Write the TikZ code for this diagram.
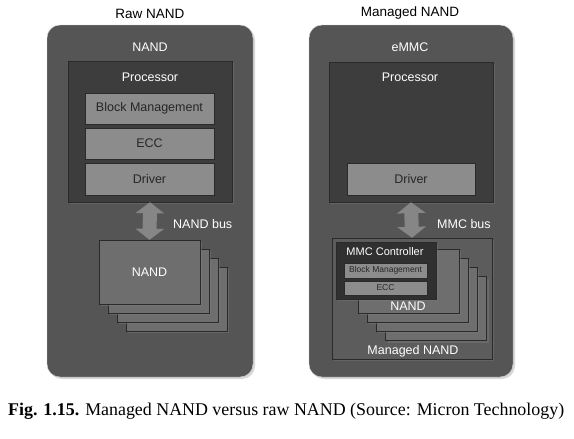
\documentclass[tikz,border=0pt]{standalone}
\usepackage{fontspec}
\setmainfont{Liberation Sans}
\newfontfamily\capfont{Liberation Serif}
\usetikzlibrary{arrows.meta}
\usetikzlibrary{shadows}
\definecolor{outergray}{HTML}{555555}
\definecolor{procgray}{HTML}{3D3D3D}
\definecolor{partgray}{HTML}{8C8C8C}
\definecolor{cardgray}{HTML}{6E6E6E}
\definecolor{edgegray}{HTML}{2A2A2A}
\definecolor{busgray}{HTML}{868686}
\definecolor{ctrlgray}{HTML}{303030}
\definecolor{mgdgray}{HTML}{5C5C5C}

\begin{document}
\begin{tikzpicture}[x=1pt, y=-1pt,
  lbl/.style={font=\fontsize{12.5}{14}\selectfont, inner sep=0pt},
  whitelbl/.style={lbl, text=white},
  titlelbl/.style={lbl, font=\fontsize{13.5}{16}\selectfont},
  outerbox/.style={draw=white!80!black, fill=outergray, rounded corners=13pt, inner sep=0pt,
    drop shadow={shadow xshift=2pt, shadow yshift=-2pt, opacity=0.3}},
  procbox/.style={draw=edgegray, fill=procgray, inner sep=0pt,
    drop shadow={shadow xshift=2pt, shadow yshift=-2pt, opacity=0.35}},
  partbox/.style={draw=edgegray, fill=partgray, text=black!85, inner sep=0pt,
    font=\fontsize{12.5}{14}\selectfont},
  card/.style={draw=edgegray, fill=cardgray, inner sep=0pt, minimum width=101pt, minimum height=64pt,
    drop shadow={shadow xshift=2pt, shadow yshift=-2pt, opacity=0.4}},
  busarrow/.style={draw=busgray, line width=14pt, {Triangle[width=28pt,length=11pt]}-{Triangle[width=28pt,length=11pt]}},
]
\useasboundingbox[fill=white] (0,0) rectangle (574,439);

\node[titlelbl] (rawtitle) at (150,14) {Raw NAND};
\node[outerbox, minimum width=206pt, minimum height=352pt] (rawbox) at (150,201) {};
\node[whitelbl] (rawlabel) at (150,47) {NAND};
\node[procbox, minimum width=164pt, minimum height=141pt] (rawproc) at (150,131.5) {};
\node[whitelbl] (rawproclabel) at (150,77) {Processor};
\node[partbox, minimum width=129pt, minimum height=31pt] (rawblk) at (149.5,108.5) {Block Management};
\node[partbox, minimum width=129pt, minimum height=31pt] (rawecc) at (149.5,143.5) {ECC};
\node[partbox, minimum width=129pt, minimum height=32pt] (rawdrv) at (149.5,179) {Driver};
\foreach \k in {3,2,1}
  \node[card] (rawcard\k) at (149.5+9*\k,272+9*\k) {};
\node[card] (rawcard) at (149.5,272) {};
\node[whitelbl] (rawcardlabel) at (rawcard) {NAND};
\draw[busarrow] (rawproc.south) -- (rawcard.north);
\node[whitelbl, anchor=west] (rawbus) at (173,224) {NAND bus};

\node[titlelbl] (mgdtitle) at (410,13) {Managed NAND};
\node[outerbox, minimum width=204pt, minimum height=352pt] (mgdbox) at (411,201) {};
\node[whitelbl] (mgdlabel) at (410,47) {eMMC};
\node[procbox, minimum width=164pt, minimum height=140pt] (mgdproc) at (411,132) {};
\node[whitelbl] (mgdproclabel) at (410,77) {Processor};
\node[partbox, minimum width=128pt, minimum height=32pt] (mgddrv) at (411,179) {Driver};
\node[procbox, fill=mgdgray, minimum width=160pt, minimum height=121pt] (mgdnand) at (412,298.5) {};
\node[whitelbl] (mgdnandlabel) at (413,351) {Managed NAND};
\foreach \k in {3,2,1}
  \node[card] (mgdcard\k) at (408.5+9.2*\k,281+9.2*\k) {};
\node[card] (mgdcard) at (408.5,281) {};
\node[whitelbl] (mgdcardlabel) at (408,306) {NAND};
\node[procbox, fill=ctrlgray, minimum width=100pt, minimum height=57pt] (ctrl) at (386,270.5) {};
\node[whitelbl, font=\fontsize{11}{13}\selectfont] (ctrllabel) at (385,252) {MMC Controller};
\node[partbox, font=\fontsize{8.5}{10}\selectfont, minimum width=83pt, minimum height=15pt] (ctrlblk) at (385.5,270.5) {Block Management};
\node[partbox, font=\fontsize{8.5}{10}\selectfont, minimum width=83pt, minimum height=14pt] (ctrlecc) at (385.5,288) {ECC};
\draw[busarrow] (mgdproc.south) -- (mgdnand.north);
\node[whitelbl, anchor=west] (mgdbus) at (437,224) {MMC bus};

\node[anchor=west, inner sep=0pt, font=\capfont\fontsize{17.9}{20}\selectfont] (caption) at (8,411)
  {\textbf{Fig. 1.15.} Managed NAND versus raw NAND (Source: Micron Technology)};
\end{tikzpicture}
\end{document}
